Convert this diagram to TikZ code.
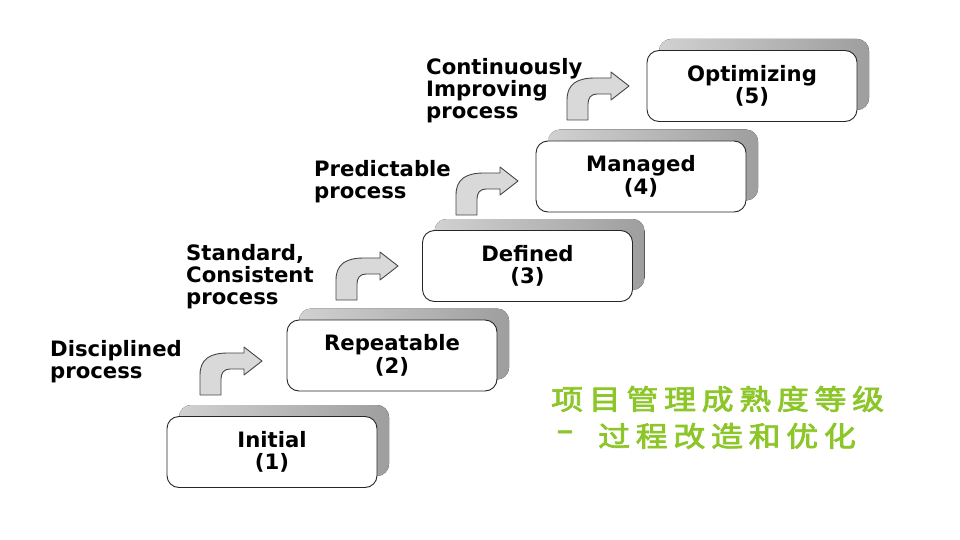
\documentclass[tikz,border=0pt]{standalone}
\usepackage{fontspec}
\usepackage{graphicx}
\setmainfont{DejaVu Sans}
\newfontfamily\cjk[FakeBold=2.5]{Noto Sans CJK SC}
\definecolor{cngreen}{RGB}{140,198,40}
\definecolor{arrowfill}{RGB}{217,217,217}
\definecolor{arrowline}{RGB}{70,70,70}
\newcommand\cs{\hspace{5pt}}
\newcommand\bentarrow[2]{%
  \filldraw[arrowstyle, shift={(#1,#2)}] (0,0) -- (0,-20)
    .. controls (0,-36) and (10,-42) .. (28,-42) -- (44,-42) -- (44,-48)
    -- (62,-34) -- (44,-20) -- (44,-26) -- (30,-26)
    .. controls (24,-26) and (21,-22) .. (21,-16) -- (21,0) -- cycle;}
\begin{document}
\begin{tikzpicture}[x=1pt,y=-1pt,
  stepbox/.style={draw=black!85, line width=0.9pt, fill=white, rounded corners=12pt,
    minimum width=210pt, minimum height=71pt, inner sep=0pt, align=center,
    font=\fontsize{21.2}{22.5}\selectfont\bfseries},
  shadowbox/.style={left color=black!18, right color=black!38, rounded corners=12pt},
  lbl/.style={anchor=west, inner sep=0pt, align=left, font=\fontsize{21.2}{22}\selectfont\bfseries},
  cntext/.style={anchor=west, inner sep=0pt, text=cngreen, font=\cjk\fontsize{28}{30}\selectfont},
  arrowstyle/.style={fill=arrowfill, draw=arrowline, line width=0.9pt, line join=round}]
\useasboundingbox (0,0) rectangle (960,540);
\fill[white] (0,0) rectangle (960,540);

% shadows
\fill[shadowbox] (272-93,449.5-44.5) rectangle (272+117,449.5+26.5);
\fill[shadowbox] (392-93,353-44.5) rectangle (392+117,353+26.5);
\fill[shadowbox] (527.5-93,263.5-44.5) rectangle (527.5+117,263.5+26.5);
\fill[shadowbox] (641-93,174-44.5) rectangle (641+117,174+26.5);
\fill[shadowbox] (752-93,83.5-44.5) rectangle (752+117,83.5+26.5);

% boxes
\node[stepbox] (b1) at (272,452) {Initial\\(1)};
\node[stepbox] (b2) at (392,355.5) {Repeatable\\(2)};
\node[stepbox] (b3) at (527.5,266) {Defined\\(3)};
\node[stepbox] (b4) at (641,176.5) {Managed\\(4)};
\node[stepbox] (b5) at (752,86) {Optimizing\\(5)};

% arrows
\bentarrow{200}{395}
\bentarrow{336}{300}
\bentarrow{456}{215}
\bentarrow{567}{120}

% labels
\node[lbl] (l1) at (50,362) {Disciplined\\process};
\node[lbl] (l2) at (186,276.5) {Standard,\\Consistent\\process};
\node[lbl] (l3) at (314,182) {Predictable\\process};
\node[lbl] (l4) at (426,90.5) {Continuously\\Improving\\process};

% chinese title
\node[cntext] (cn1) at (551,399) {\scalebox{1.14}[1]{项\cs 目\cs 管\cs 理\cs 成\cs 熟\cs 度\cs 等\cs 级}};
\node[cntext] (cn2a) at (556,436) {\scalebox{1.8}[1.2]{-}};
\node[cntext] (cn2b) at (598,436) {\scalebox{1.14}[1]{过\cs 程\cs 改\cs 造\cs 和\cs 优\cs 化}};
\end{tikzpicture}
\end{document}
